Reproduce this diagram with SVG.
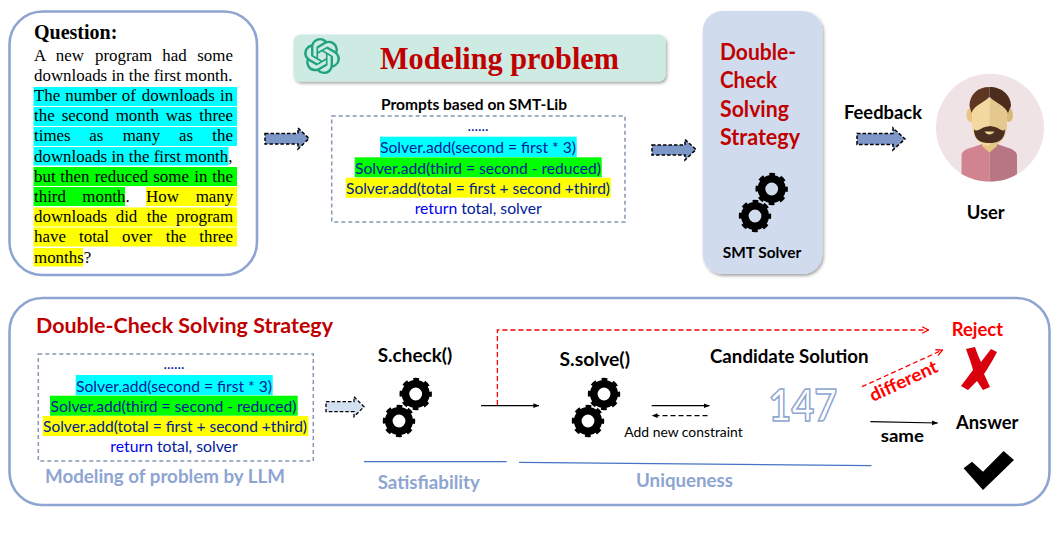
<svg xmlns="http://www.w3.org/2000/svg" width="1061" height="545" viewBox="0 0 1061 545">
<style>
text{font-family:"Lato","Noto Sans",sans-serif}
.t{font-family:"Liberation Serif","Times New Roman",serif;font-size:16.9px;fill:#000}
.b{font-weight:700;fill:#000}
.red{font-weight:700;fill:#c00000}
.rr{font-weight:700;fill:#f00}
.lb{font-weight:700;fill:#8ea5d2}
.code{font-size:15px;fill:#00209a}
.ret{fill:#0000f0}
.frame{fill:#fff;stroke:#8ea5d2;stroke-width:2.6}
.dash{fill:#fff;stroke:#8497b0;stroke-width:1.5;stroke-dasharray:4 3}
.blk{fill:#7e97c9;stroke:#000;stroke-width:1.5;stroke-dasharray:3.5 2}
.blk2{fill:#d3e0f2;stroke:#000;stroke-width:1.3;stroke-dasharray:3.5 2}
.ln{fill:none;stroke:#000;stroke-width:1.2}
.rl{fill:none;stroke:#f00;stroke-width:1.3;stroke-dasharray:5 3}
.bl{fill:none;stroke:#4472c4;stroke-width:1.2}
.c{fill:#0ff}.g{fill:#0f0}.y{fill:#ff0}
</style>
<defs>
<filter id="sh" x="-10%" y="-10%" width="120%" height="120%"><feDropShadow dx="1.5" dy="2" stdDeviation="1.5" flood-color="#000" flood-opacity=".35"/></filter>
<marker id="ab" viewBox="0 0 8 8" refX="7.5" refY="4" markerWidth="6" markerHeight="6" markerUnits="userSpaceOnUse" orient="auto"><path d="M0 .8L8 4L0 7.2z" fill="#000"/></marker>
<marker id="ar" viewBox="0 0 10 10" refX="9" refY="5" markerWidth="8" markerHeight="8" markerUnits="userSpaceOnUse" orient="auto"><path d="M1 1L9 5L1 9" fill="none" stroke="#f00" stroke-width="1.6"/></marker>
<g id="gear">
<circle r="10.2" fill="none" stroke="#000" stroke-width="7.6"/>
<circle r="14" fill="none" stroke="#000" stroke-width="4.4" stroke-dasharray="5.5 5.5" stroke-dashoffset="2.75"/>
</g>
</defs>
<rect width="1061" height="545" fill="#fff"/>

<g id="question">
<rect class="frame" x="9.500" y="11.500" width="247.500" height="263.500" rx="33"/>
<text x="34" y="39" style="font-family:'Liberation Serif',serif;font-size:20px;font-weight:700">Question:</text>
<rect class="c" x="33.500" y="87" width="203.500" height="19"/><rect class="c" x="33.500" y="107" width="203.500" height="19"/><rect class="c" x="33.500" y="127" width="203.500" height="19"/><rect class="c" x="33.500" y="147" width="195" height="18.500"/>
<rect class="g" x="33.500" y="167" width="203.500" height="19"/><rect class="g" x="33.500" y="187" width="91.500" height="19"/>
<rect class="y" x="146" y="187" width="91" height="19"/><rect class="y" x="33.500" y="207.500" width="203.500" height="19"/><rect class="y" x="33.500" y="227.500" width="203.500" height="19"/><rect class="y" x="33.500" y="248" width="49.500" height="18.500"/>
<text class="t" y="61"><tspan x="34">A</tspan> <tspan x="55.700">new</tspan> <tspan x="95">program</tspan> <tspan x="162.300">had</tspan> <tspan x="197.300">some</tspan></text>
<text class="t" x="34" y="81">downloads in the first month.</text>
<text class="t" y="101"><tspan x="34">The</tspan> <tspan x="65.300">number</tspan> <tspan x="121.700">of</tspan> <tspan x="141.700">downloads</tspan> <tspan x="220">in</tspan></text>
<text class="t" y="121"><tspan x="34">the</tspan> <tspan x="61.700">second</tspan> <tspan x="115.700">month</tspan> <tspan x="165.700">was</tspan> <tspan x="199.300">three</tspan></text>
<text class="t" y="141"><tspan x="34">times</tspan> <tspan x="89.300">as</tspan> <tspan x="122.700">many</tspan> <tspan x="179">as</tspan> <tspan x="212.300">the</tspan></text>
<text class="t" x="34" y="161.500">downloads in the first month,</text>
<text class="t" y="181.500"><tspan x="34">but</tspan> <tspan x="60.300">then</tspan> <tspan x="94.700">reduced</tspan> <tspan x="153.300">some</tspan> <tspan x="194.300">in</tspan> <tspan x="212.300">the</tspan></text>
<text class="t" y="201.500"><tspan x="34">third</tspan> <tspan x="82.300">month.</tspan> <tspan x="146">How</tspan> <tspan x="195.700">many</tspan></text>
<text class="t" y="222"><tspan x="34">downloads</tspan> <tspan x="115.700">did</tspan> <tspan x="146.700">the</tspan> <tspan x="176">program</tspan></text>
<text class="t" y="242"><tspan x="34">have</tspan> <tspan x="79">total</tspan> <tspan x="122">over</tspan> <tspan x="165.700">the</tspan> <tspan x="199.300">three</tspan></text>
<text class="t" x="34" y="262.500">months?</text>
</g>

<g id="modeling-banner">
<rect x="293.500" y="34.500" width="372" height="47" rx="7" fill="#cdeae3" filter="url(#sh)"/>
<path transform="translate(304,38) scale(1.5)" fill="#1fa37f" d="M22.2819 9.8211a5.9847 5.9847 0 0 0-.5157-4.9108 6.0462 6.0462 0 0 0-6.5098-2.9A6.0651 6.0651 0 0 0 4.9807 4.1818a5.9847 5.9847 0 0 0-3.9977 2.9 6.0462 6.0462 0 0 0 .7427 7.0966 5.98 5.98 0 0 0 .511 4.9107 6.051 6.051 0 0 0 6.5146 2.9001A5.9847 5.9847 0 0 0 13.2599 24a6.0557 6.0557 0 0 0 5.7718-4.2058 5.9894 5.9894 0 0 0 3.9977-2.9001 6.0557 6.0557 0 0 0-.7475-7.073zm-9.022 12.6081a4.4755 4.4755 0 0 1-2.8764-1.0408l.1419-.0804 4.7783-2.7582a.7948.7948 0 0 0 .3927-.6813v-6.7369l2.02 1.1686a.071.071 0 0 1 .038.052v5.5826a4.504 4.504 0 0 1-4.4945 4.4944zm-9.6607-4.1254a4.4708 4.4708 0 0 1-.5346-3.0137l.142.0852 4.783 2.7582a.7712.7712 0 0 0 .7806 0l5.8428-3.3685v2.3324a.0804.0804 0 0 1-.0332.0615L9.74 19.9502a4.4992 4.4992 0 0 1-6.1408-1.6464zM2.3408 7.8956a4.485 4.485 0 0 1 2.3655-1.9728V11.6a.7664.7664 0 0 0 .3879.6765l5.8144 3.3543-2.0201 1.1685a.0757.0757 0 0 1-.071 0l-4.8303-2.7865A4.504 4.504 0 0 1 2.3408 7.872zm16.5963 3.8558L13.1038 8.364 15.1192 7.2a.0757.0757 0 0 1 .071 0l4.8303 2.7913a4.4944 4.4944 0 0 1-.6765 8.1042v-5.6772a.79.79 0 0 0-.407-.667zm2.0107-3.0231l-.142-.0852-4.7735-2.7818a.7759.7759 0 0 0-.7854 0L9.409 9.2297V6.8974a.0662.0662 0 0 1 .0284-.0615l4.8303-2.7866a4.4992 4.4992 0 0 1 6.6802 4.66zM8.3065 12.863l-2.02-1.1638a.0804.0804 0 0 1-.038-.0567V6.0742a4.4992 4.4992 0 0 1 7.3757-3.4537l-.142.0805L8.704 5.459a.7948.7948 0 0 0-.3927.6813zm1.0976-2.3654l2.602-1.4998 2.6069 1.4998v2.9994l-2.5974 1.4997-2.6067-1.4997Z"/>
<text x="380" y="69" textLength="239" lengthAdjust="spacingAndGlyphs" style="font-family:'Liberation Serif',serif;font-size:31px;font-weight:700;fill:#c00000">Modeling problem</text>
</g>

<g id="prompts">
<text class="b" x="381" y="110" font-size="15" textLength="186" lengthAdjust="spacingAndGlyphs">Prompts based on SMT-Lib</text>
<rect class="dash" x="331.700" y="116" width="293.300" height="106"/>
<rect class="c" x="380" y="136.700" width="196.700" height="20.300"/><rect class="g" x="354.700" y="157.300" width="247" height="20"/><rect class="y" x="345.700" y="177.700" width="265" height="20"/>
<text class="code" x="478" y="130.700" text-anchor="middle">......</text>
<text class="code" x="380" y="153.300" textLength="196" lengthAdjust="spacingAndGlyphs">Solver.add(second = first * 3)</text>
<text class="code" x="355" y="174" textLength="246" lengthAdjust="spacingAndGlyphs">Solver.add(third = second - reduced)</text>
<text class="code" x="346" y="194.300" textLength="264" lengthAdjust="spacingAndGlyphs">Solver.add(total = first + second +third)</text>
<text class="code" x="414.700" y="214.300" textLength="127" lengthAdjust="spacingAndGlyphs"><tspan class="ret">return</tspan> total, solver</text>
</g>

<g id="solver-panel">
<rect x="702.700" y="11" width="119.600" height="263" rx="20" fill="#d0dcee" filter="url(#sh)"/>
<text class="red" x="720" y="60" font-size="23" textLength="76" lengthAdjust="spacingAndGlyphs">Double-</text>
<text class="red" x="720" y="88" font-size="23" textLength="57" lengthAdjust="spacingAndGlyphs">Check</text>
<text class="red" x="720" y="116.500" font-size="23" textLength="69" lengthAdjust="spacingAndGlyphs">Solving</text>
<text class="red" x="720" y="145" font-size="23" textLength="80" lengthAdjust="spacingAndGlyphs">Strategy</text>
<use href="#gear" x="771.700" y="189"/><use href="#gear" x="755" y="216"/>
<text class="b" x="722.700" y="258" font-size="15" textLength="78.500" lengthAdjust="spacingAndGlyphs">SMT Solver</text>
</g>

<g id="user">
<text class="b" x="844" y="119" font-size="18" textLength="78" lengthAdjust="spacingAndGlyphs">Feedback</text>
<circle cx="990" cy="127.700" r="54" fill="#f0e3e6"/>
<path d="M989.500 181.500C980 181.500 970 179 961.500 174V156C961.500 151 966 149 972 147.500L982 144H989.500z" fill="#d1848f"/>
<path d="M989.500 181.500C1000 181.500 1010 179 1017 174V156C1017 151 1012 149 1007 147.500L997 144H989.500z" fill="#b87583"/>
<path d="M982 146L989.500 152.500L997 146V136H982z" fill="#e8c682"/>
<ellipse cx="970.500" cy="115" rx="4" ry="7" fill="#e8c682"/><ellipse cx="1009" cy="115" rx="4" ry="7" fill="#d9b97a"/>
<path d="M989.500 98L972 104V128C974 141 982 146 989.500 146z" fill="#f3d9a0"/>
<path d="M989.500 98L1007 104V128C1005 141 997 146 989.500 146z" fill="#e4c88e"/>
<path d="M989.500 87C977 87 969.500 95 969.500 106L971.500 113C975 105 980 105 989.500 97z" fill="#5e3622"/>
<path d="M989.500 87C1002 87 1011 95 1011 106L1008 113C1004 105 999 105 989.500 97z" fill="#4c2c1b"/>
<path d="M974 129C977 133 981 128 985 127L990 126L995 127C999 128 1003 133 1005 129C1005 141 997 143 989.500 143C982 143 974 141 974 129zM984.500 131.500C987 135.500 992 135.500 994.500 131.500z" fill="#4a2e20" fill-rule="evenodd"/>
<text class="b" x="966.700" y="219.300" font-size="18" textLength="38" lengthAdjust="spacingAndGlyphs">User</text>
</g>

<g id="strategy">
<rect class="frame" x="9.500" y="298" width="1040" height="207" rx="33"/>
<text class="red" x="36" y="333.300" font-size="20" textLength="297" lengthAdjust="spacingAndGlyphs">Double-Check Solving Strategy</text>
</g>

<g id="llm-model">
<rect class="dash" x="38.300" y="354" width="275" height="107"/>
<rect class="c" x="75.700" y="375" width="197" height="20.300"/><rect class="g" x="50" y="395.700" width="247.700" height="20"/><rect class="y" x="42.700" y="416" width="265.600" height="20"/>
<text class="code" x="174" y="368.700" text-anchor="middle">......</text>
<text class="code" x="76" y="391.700" textLength="196" lengthAdjust="spacingAndGlyphs">Solver.add(second = first * 3)</text>
<text class="code" x="50.500" y="412" textLength="246" lengthAdjust="spacingAndGlyphs">Solver.add(third = second - reduced)</text>
<text class="code" x="43" y="432" textLength="264" lengthAdjust="spacingAndGlyphs">Solver.add(total = first + second +third)</text>
<text class="code" x="110.300" y="452" textLength="127.400" lengthAdjust="spacingAndGlyphs"><tspan class="ret">return</tspan> total, solver</text>
<text class="lb" x="45" y="482.700" font-size="18" textLength="240" lengthAdjust="spacingAndGlyphs">Modeling of problem by LLM</text>
</g>

<g id="s-check">
<text class="b" x="377.700" y="361.700" font-size="18" textLength="74.600" lengthAdjust="spacingAndGlyphs">S.check()</text>
<use href="#gear" x="415.700" y="394"/><use href="#gear" x="399" y="421"/>
<text class="lb" x="377.700" y="489" font-size="18" textLength="102.300" lengthAdjust="spacingAndGlyphs">Satisfiability</text>
</g>

<g id="s-solve">
<text class="b" x="559.500" y="366" font-size="18" textLength="70.500" lengthAdjust="spacingAndGlyphs">S.solve()</text>
<use href="#gear" x="604" y="394"/><use href="#gear" x="588" y="421"/>
<text x="624.300" y="436.700" font-size="14" fill="#000" textLength="118.400" lengthAdjust="spacingAndGlyphs">Add new constraint</text>
<text class="lb" x="636" y="486.700" font-size="18" textLength="97" lengthAdjust="spacingAndGlyphs">Uniqueness</text>
</g>

<g id="candidate">
<text class="b" x="710" y="362.700" font-size="18" textLength="158.500" lengthAdjust="spacingAndGlyphs">Candidate Solution</text>
<text x="768.600" y="421" font-size="44" font-weight="700" fill="#fff" stroke="#8ea5d2" stroke-width="1.6" textLength="68.400" lengthAdjust="spacingAndGlyphs">147</text>
</g>

<g id="reject">
<text class="rr" x="951.700" y="335.700" font-size="18" textLength="51.300" lengthAdjust="spacingAndGlyphs">Reject</text>
<path d="M966 349L975 347C977 353 979 358 981 362L991 349L997 352C993 360 988 368 984 374L990 387L983 390L977 381L968 390L961 386L973 370C971 362 968 355 966 349z" fill="#d8000c"/>
</g>

<g id="answer">
<text class="b" x="956" y="429.300" font-size="18" textLength="62.400" lengthAdjust="spacingAndGlyphs">Answer</text>
<path d="M963.600 468.300L983 490L1014 460L1003.600 451L983 471.700L972 461.700z" fill="#000"/>
</g>

<g id="connectors">
<path class="blk" d="M265 133.500H298V128L309 138.500L298 149V144H265z"/>
<path class="blk" d="M652 145H685V139.500L696 149.500L685 160V155H652z"/>
<path class="blk" d="M857 133.500H893V128L905 139L893 150V144.500H857z"/>
<path class="blk2" d="M326 401.700H354V396.700L364 406.700L354 416.700V411.700H326z"/>
<path class="ln" d="M481 405.700H539" marker-end="url(#ab)"/>
<path class="rl" d="M497.400 405V330H928.500" marker-end="url(#ar)"/>
<path class="ln" d="M651.700 405.700H709.400" marker-end="url(#ab)"/>
<path class="ln" style="stroke-dasharray:5 3" d="M707.500 415.700H652" marker-end="url(#ab)"/>
<path class="rl" d="M862 386.700L942.500 350" marker-end="url(#ar)"/>
<text class="rr" font-size="18" transform="translate(873,402) rotate(-25)" textLength="73" lengthAdjust="spacingAndGlyphs">different</text>
<path class="ln" d="M870.400 421.700L937.700 423" marker-end="url(#ab)"/>
<text class="b" x="880.700" y="442.300" font-size="17" textLength="43.300" lengthAdjust="spacingAndGlyphs">same</text>
<path class="bl" d="M364 461.700H506.600"/>
<path class="bl" d="M519 462.300L871.500 465.700"/>
</g>
</svg>
